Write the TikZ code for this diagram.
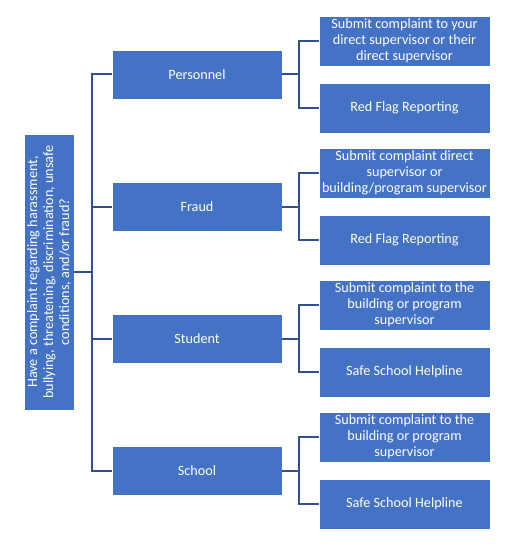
\documentclass[tikz,border=0pt]{standalone}
\usepackage{fontspec}
\setmainfont{Carlito}
\begin{document}
\begin{tikzpicture}[x=1pt,y=-1pt,
  box/.style={draw=white,line width=0.6pt,fill=boxblue,text=white,inner sep=0pt,align=center,
    font=\fontsize{14.2}{16}\selectfont},
  mid/.style={box,minimum width=170pt,minimum height=49pt},
  leaf/.style={box,minimum width=171pt,minimum height=50pt},
  conn/.style={draw=lineblue,line width=2pt}]
\definecolor{boxblue}{HTML}{4472C4}
\definecolor{lineblue}{HTML}{2F528F}
\useasboundingbox (0,0) rectangle (512,548);
\node[box,rotate=90,minimum width=276pt,minimum height=50pt] (root) at (49,272)
  {Have a complaint regarding harassment,\\bullying, threatening, discrimination, unsafe\\conditions, and/or fraud?};
\node[mid] (p) at (197,74.5) {Personnel};
\node[mid] (f) at (197,206.5) {Fraud};
\node[mid] (st) at (197,338.5) {Student};
\node[mid] (sc) at (197,470.5) {School};
\node[leaf] (p1) at (404.5,41) {Submit complaint to your\\direct supervisor or their\\direct supervisor};
\node[leaf] (p2) at (404.5,108) {Red Flag Reporting};
\node[leaf] (f1) at (404.5,173) {Submit complaint direct\\supervisor or\\building/program supervisor};
\node[leaf] (f2) at (404.5,240) {Red Flag Reporting};
\node[leaf] (s1) at (404.5,305) {Submit complaint to the\\building or program\\supervisor};
\node[leaf] (s2) at (404.5,372) {Safe School Helpline};
\node[leaf] (c1) at (404.5,437) {Submit complaint to the\\building or program\\supervisor};
\node[leaf] (c2) at (404.5,504) {Safe School Helpline};
% trunk
\draw[conn] (p.west) -- ++(-20,0) coordinate (tr) |- (sc.west);
\draw[conn] (f.west) -- (f.west -| tr);
\draw[conn] (st.west) -- (st.west -| tr);
\draw[conn] (root.south) -- (root.south -| tr);
% brackets
\foreach \m/\a/\b in {p/p1/p2,f/f1/f2,st/s1/s2,sc/c1/c2}{
  \draw[conn] (\m.east) -- ++(17,0) coordinate (br);
  \draw[conn] (\a.west) -| (br);
  \draw[conn] (\b.west) -| (br);
}
\end{tikzpicture}
\end{document}
